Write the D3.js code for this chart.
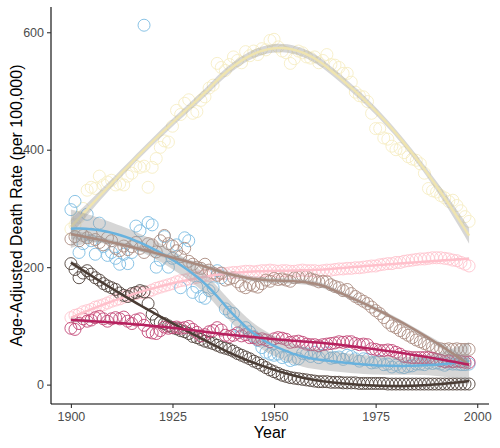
<!DOCTYPE html>
<html>
<head>
<meta charset="utf-8">
<script src="https://cdn.jsdelivr.net/npm/d3@7"></script>
<style>
  body { margin: 0; background: #fff; }
  text { font-family: "Liberation Sans", Arial, sans-serif; }
</style>
</head>
<body>
<div id="canvas"></div>
<script>
// years 1900..1998, one value per year
const firstYear = 1900;

const heart = [
  265, 272, 285, 300, 331, 336, 334, 355, 340, 345,
  348, 340, 342, 340, 355, 360, 372, 370, 372, 336,
  370, 385, 404, 415, 413, 440, 467, 460, 479, 485,
  462, 465, 484, 490, 505, 510, 547, 540, 535, 545,
  558, 552, 548, 567, 560, 568, 562, 572, 570, 586,
  588, 575, 568, 565, 547, 555, 568, 565, 558, 556,
  558, 548, 552, 562, 545, 544, 540, 530, 530, 515,
  498, 492, 490, 482, 462, 436, 436, 420, 418, 406,
  400, 402, 395, 388, 384, 382, 376, 360, 334, 330,
  328, 322, 318, 312, 314, 305, 296, 286, 278
];
const cancer = [
  114, 118, 120, 124, 126, 128, 132, 134, 136, 139,
  142, 144, 146, 149, 151, 153, 155, 157, 156, 158,
  161, 164, 166, 168, 170, 172, 175, 177, 178, 180,
  181, 183, 184, 186, 186, 188, 188, 189, 189, 190,
  191, 191, 192, 193, 193, 192, 193, 194, 194, 195,
  194, 193, 194, 194, 193, 193, 194, 195, 194, 194,
  194, 193, 194, 195, 195, 196, 197, 197, 198, 198,
  199, 199, 200, 201, 202, 202, 204, 205, 206, 206,
  208, 208, 210, 211, 212, 213, 214, 214, 215, 216,
  216, 216, 215, 214, 212, 211, 208, 205, 202
];
const stroke = [
  248, 252, 245, 254, 250, 256, 247, 242, 238, 250,
  245, 232, 228, 236, 230, 235, 242, 232, 225, 240,
  238, 226, 245, 254, 240, 236, 228, 218, 232, 210,
  205, 200, 198, 205, 195, 190, 186, 190, 178, 180,
  182, 175, 168, 165, 170, 168, 166, 172, 178, 176,
  181, 179, 180, 178, 176, 182, 183, 186, 184, 180,
  178, 175, 176, 175, 170, 167, 165, 160, 162, 155,
  150, 146, 142, 138, 132, 126, 121, 114, 106, 100,
  97, 92, 88, 84, 80, 76, 73, 70, 67, 64,
  62, 61, 60, 61, 60, 61, 60, 60, 60
];
const flu = [
  298, 312, 225, 240, 290, 245, 222, 275, 235, 220,
  225, 215, 205, 222, 206, 225, 270, 262, 612, 276,
  272, 200, 212, 252, 200, 215, 238, 165, 250, 245,
  157, 166, 150, 147, 160, 165, 194, 182, 129, 123,
  121, 100, 90, 97, 90, 82, 75, 63, 55, 52,
  50, 52, 46, 48, 41, 43, 44, 53, 52, 48,
  55, 46, 50, 54, 45, 46, 47, 43, 50, 48,
  44, 40, 44, 43, 37, 38, 40, 34, 35, 30,
  33, 30, 29, 31, 32, 35, 35, 34, 37, 36,
  37, 35, 33, 36, 35, 35, 34, 34, 35
];
const tb = [
  206, 196, 182, 190, 194, 188, 182, 178, 172, 168,
  165, 162, 156, 152, 150, 155, 157, 160, 158, 138,
  120, 110, 106, 104, 100, 97, 95, 92, 90, 87,
  82, 80, 77, 74, 72, 70, 67, 64, 62, 60,
  57, 53, 50, 47, 44, 40, 37, 33, 29, 25,
  22, 19, 16, 14, 12, 11, 10, 9, 8, 7,
  6, 5, 5, 5, 4, 4, 4, 3, 3, 3,
  3, 2, 2, 2, 2, 2, 2, 2, 1, 1,
  1, 1, 1, 1, 1, 1, 1, 1, 1, 1,
  1, 1, 1, 1, 1, 1, 1, 1, 1
];
const injury = [
  96, 94, 104, 112, 108, 110, 114, 116, 112, 108,
  112, 114, 112, 115, 108, 104, 110, 112, 101, 90,
  88, 87, 92, 98, 96, 97, 98, 96, 97, 99,
  94, 89, 83, 85, 90, 92, 97, 93, 84, 82,
  84, 88, 83, 85, 80, 80, 77, 78, 76, 73,
  78, 80, 79, 77, 72, 73, 74, 72, 69, 68,
  68, 66, 68, 69, 70, 71, 73, 72, 73, 73,
  70, 68, 69, 68, 61, 60, 58, 58, 59, 58,
  55, 52, 48, 47, 46, 46, 46, 46, 46, 45,
  43, 41, 39, 40, 39, 40, 39, 38, 38
];

const causes = ["Cancer", "Heart Disease", "Influenza & Pneumonia", "Stroke", "Tuberculosis", "Unintentional Injuries"];
const seriesValues = [cancer, heart, flu, stroke, tb, injury];
const pointColors = ["#FFC4CE", "#F6EDC4", "#7DBCE2", "#AC8C81", "#4F423B", "#C24676"];
const lineColors = ["#FFC0CB", "#EFE4B0", "#68B2DE", "#A88A7E", "#4A3C34", "#B8205F"];

const xTicks = [1900, 1925, 1950, 1975, 2000];
const yTicks = [0, 200, 400, 600];

const w = 500;
const h = 448;

// local quadratic loess, span .75, tricube weights (like geom_smooth default)
function loessRows(xs, at, span){
  const n = xs.length;
  const q = Math.floor(n * span);
  return at.map(x0 => {
    const d = xs.map(x => Math.abs(x - x0));
    const hh = d.slice().sort((a, b) => a - b)[q - 1] || 1;
    const wt = d.map(v => v < hh ? Math.pow(1 - Math.pow(v / hh, 3), 3) : 0);
    let S = [0, 0, 0, 0, 0];
    xs.forEach((x, i) => {
      const u = (x - x0) / hh;
      for (let k = 0; k < 5; k++) S[k] += wt[i] * Math.pow(u, k);
    });
    const a = S[0], b = S[1], c = S[2], e = S[3], f = S[4];
    const det = a * (c * f - e * e) - b * (b * f - e * c) + c * (b * e - c * c);
    const r0 = (c * f - e * e) / det, r1 = -(b * f - c * e) / det, r2 = (b * e - c * c) / det;
    return xs.map((x, i) => {
      const u = (x - x0) / hh;
      return wt[i] * (r0 + r1 * u + r2 * u * u);
    });
  });
}

function smooth(xs, ys, grid){
  const n = xs.length;
  const L = loessRows(xs, xs, 0.75);
  let rss = 0, tr = 0, trLL = 0;
  L.forEach((row, i) => {
    const fit = d3.sum(row, (l, j) => l * ys[j]);
    rss += (ys[i] - fit) * (ys[i] - fit);
    tr += row[i];
    trLL += d3.sum(row, l => l * l);
  });
  const delta1 = n - 2 * tr + trLL;
  const sigma = Math.sqrt(rss / delta1);
  const tq = 1.99;
  return loessRows(xs, grid, 0.75).map((row, k) => {
    const fit = d3.sum(row, (l, j) => l * ys[j]);
    const se = sigma * Math.sqrt(d3.sum(row, l => l * l));
    return { x: grid[k], y: fit, lo: fit - tq * se, hi: fit + tq * se };
  });
}

function render(){
  const margin = { top: 7, right: 11, bottom: 44, left: 51 };
  const width = w - margin.left - margin.right;
  const height = h - margin.top - margin.bottom;

  const svg = d3.select("#canvas")
                .append("svg")
                .attr("width", w)
                .attr("height", h);

  const chart = svg.append("g")
                   .attr("transform", "translate(" + margin.left + "," + margin.top + ")");

  const years = seriesValues[0].map((v, i) => firstYear + i);

  const x = d3.scaleLinear()
              .domain([1895.1, 2002.9])
              .range([0, width]);
  const y = d3.scaleLinear()
              .domain([-33, 643])
              .range([height, 0]);

  // points
  seriesValues.forEach((vals, s) => {
    chart.append("g")
         .selectAll("circle")
         .data(vals)
         .enter()
         .append("circle")
         .attr("cx", (d, i) => x(years[i]))
         .attr("cy", d => y(d))
         .attr("r", 6)
         .attr("fill", "none")
         .attr("stroke", pointColors[s])
         .attr("stroke-width", 0.9);
  });

  // smooths
  const grid = d3.range(80).map(i => firstYear + i * (years[years.length - 1] - firstYear) / 79);
  const area = d3.area().x(d => x(d.x)).y0(d => y(d.lo)).y1(d => y(d.hi));
  const line = d3.line().x(d => x(d.x)).y(d => y(d.y));
  seriesValues.forEach((vals, s) => {
    const fit = smooth(years, vals, grid);
    chart.append("path")
         .attr("d", area(fit))
         .attr("fill", "#999999")
         .attr("fill-opacity", 0.4);
    chart.append("path")
         .attr("d", line(fit))
         .attr("fill", "none")
         .attr("stroke", lineColors[s])
         .attr("stroke-width", 2.5);
  });

  // axes
  const xAxis = d3.axisBottom(x).tickValues(xTicks).tickSize(4).tickPadding(4).tickFormat(d3.format("d"));
  const yAxis = d3.axisLeft(y).tickValues(yTicks).tickSize(4).tickPadding(3);

  const gx = chart.append("g").attr("transform", "translate(0," + height + ")").call(xAxis);
  const gy = chart.append("g").call(yAxis);
  [gx, gy].forEach(g => {
    g.select(".domain").attr("stroke", "#000").attr("stroke-width", 1.1);
    g.selectAll(".tick line").attr("stroke", "#333").attr("stroke-width", 1.1);
    g.selectAll(".tick text").attr("fill", "#4D4D4D").style("font-size", "12.5px");
  });
  gx.select(".domain").attr("d", "M0,0H" + width);
  gy.select(".domain").attr("d", "M0,0V" + height);

  svg.append("text")
     .attr("x", margin.left + width / 2)
     .attr("y", 438)
     .attr("text-anchor", "middle")
     .style("font-size", "16px")
     .text("Year");

  svg.append("text")
     .attr("transform", "translate(22," + (margin.top + height / 2) + ") rotate(-90)")
     .attr("text-anchor", "middle")
     .style("font-size", "16px")
     .text("Age-Adjusted Death Rate (per 100,000)");
}

render();
</script>
</body>
</html>
